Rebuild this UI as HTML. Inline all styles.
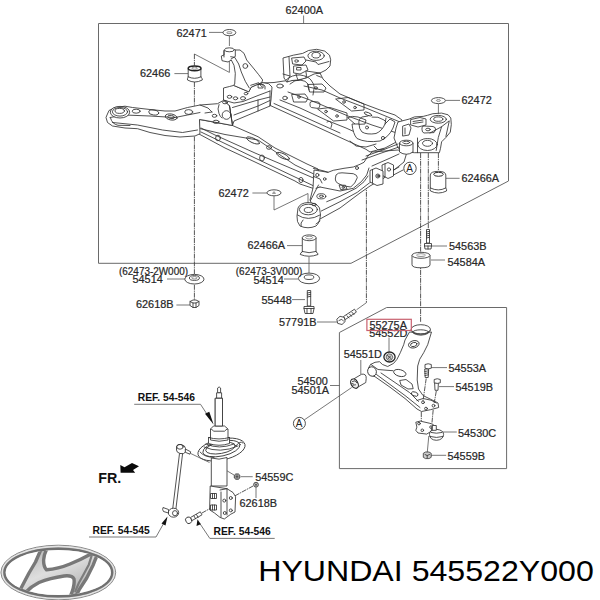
<!DOCTYPE html>
<html><head><meta charset="utf-8">
<style>
html,body{margin:0;padding:0;background:#fff;width:600px;height:600px;overflow:hidden}
svg{display:block}
text{font-family:"Liberation Sans",sans-serif;fill:#222}
.l{font-size:10.9px;stroke:#333;stroke-width:0.22px}
.b{font-size:10.3px;font-weight:bold;fill:#111}
.s{fill:none;stroke:#333;stroke-width:0.85;stroke-linejoin:round;stroke-linecap:round}
.bx{fill:none;stroke:#6a6a6a;stroke-width:1}
.ld{fill:none;stroke:#555;stroke-width:0.8}
.dl{fill:none;stroke:#444;stroke-width:0.9;stroke-dasharray:5 0.8 1.2 0.8}
.p{fill:#fff;stroke:#333;stroke-width:0.85;stroke-linejoin:round}
</style></head><body>
<svg width="600" height="600" viewBox="0 0 600 600">
<defs>
<linearGradient id="hg" x1="0" y1="0" x2="1" y2="1">
<stop offset="0" stop-color="#a8a8a8"/><stop offset="0.45" stop-color="#dedede"/><stop offset="1" stop-color="#9a9a9a"/>
</linearGradient>
<linearGradient id="rg" x1="0" y1="0" x2="0" y2="1">
<stop offset="0" stop-color="#b5b5b5"/><stop offset="0.5" stop-color="#8d8d8d"/><stop offset="1" stop-color="#9a9a9a"/>
</linearGradient>
</defs>
<g id="logo">
<clipPath id="ic"><ellipse cx="58.3" cy="572.5" rx="52.6" ry="22.6"/></clipPath>
<ellipse cx="58.3" cy="572.5" rx="57.4" ry="27.3" fill="#b4b4b4" stroke="#8a8a8a" stroke-width="1"/>
<ellipse cx="58.3" cy="572.5" rx="56" ry="26" fill="none" stroke="#e4e4e4" stroke-width="1.3"/>
<ellipse cx="58.3" cy="572.5" rx="53.8" ry="23.8" fill="url(#hg)" stroke="#707070" stroke-width="2.4"/>
<g clip-path="url(#ic)" fill="#fff" stroke="#787878" stroke-width="3.4" stroke-linejoin="round">
<path d="M42.5 546L35.5 562L29 573L19 592L0 592L0 540Z"/>
<path d="M48.5 546Q44 553 43.6 560Q43.5 566.5 46.5 569.8Q58 569 70 564Q81 559.5 90 554.5L92 540L49 540Z"/>
<path d="M25.5 592.5Q31 586.5 39 582.5Q50 578 64 576Q72 575 74 579Q75 586 70 597L70 600L20 600Z"/>
<path d="M97.5 554.5Q95 560 93.3 564.7L86.7 578L79.2 589.7L76 596L120 600L120 540Z"/>
</g>
<path d="M92 554.5L88.8 564.7L83 575.5L78.8 583L75 592" fill="none" stroke="#7c7c7c" stroke-width="2.2"/>

</g>
<!-- boxes -->
<path class="bx" d="M98.5 23.5H508.5V181L351 263.3H98.5Z"/>
<path class="bx" d="M386.7 307.5H506.6V468.6H339.4V332.5Z"/>
<line class="ld" x1="303.6" y1="15.5" x2="303.6" y2="23.5"/>

<g id="behind">
<line class="dl" x1="194.4" y1="82" x2="194.4" y2="300"/>
<line class="dl" x1="366.4" y1="184" x2="366.4" y2="302.7"/>
<line class="dl" x1="420.6" y1="153" x2="420.6" y2="322"/>
<line class="dl" x1="428.3" y1="153" x2="428.3" y2="229"/>
<line class="dl" x1="438.4" y1="153" x2="438.4" y2="170"/>
</g>
<g id="subframe">
<!-- right rail -->
<path class="p" d="M262 83L274 82.5L284 81L300 80L314.3 73.3L320 73L323 79L330 86L340 94L352 99L364 104L380 110L395 115L402 120L400 140L385 148L370 152L366 149.3L270.7 105.7Z"/>
<path class="s" d="M304 86L322 90L340 98L366 108L400 122M288 92L310 100L348 116L372 125L400 134M280 100L300 108L326 120L346 128L366 137M274 103.5L300 115L320 124L340 133"/>
<path class="s" d="M308 84.5L322 84L326 88L324 92L310 92Z"/><circle class="s" cx="316" cy="88" r="1.3"/>
<path class="s" d="M292 94.5L305 94L308 98L306 102L294 102Z"/><circle class="s" cx="299" cy="97" r="1.3"/>
<path class="s" d="M310 103Q310 101.5 312 101.5L318 102Q320 102.5 320 104.5L319.5 107Q319 108.5 317 108.3L311.5 107.5Q310 107 310 105.5Z"/>
<path class="s" d="M318 109L330 107.5L347 113L347 120L334 121Z"/><circle class="s" cx="326" cy="111.5" r="1.3"/><circle class="s" cx="337" cy="116" r="1.3"/>
<path class="s" d="M336 99L348 97.5L364 104L364 110L352 111Z"/><circle class="s" cx="344" cy="102" r="1.3"/><circle class="s" cx="355" cy="107.5" r="1.3"/>
<ellipse class="s" cx="368" cy="114" rx="4" ry="1.4" transform="rotate(22 368 114)"/>
<path class="s" d="M348 117.5Q352 115.5 358 117L366 120L365 124L356 124.5Z"/>
<path class="s" d="M327 122Q330 120 332 124L331 127.5M372 117Q378 116 384 120L390 126"/>
<!-- bracket near right -->
<path class="p" d="M352 124Q353 134 357 138.5Q366 143 380 141Q389 137 393 128L395 122L390 119L385 124Q382 131 376 133.5Q367 135 362 132Q359 129 359 124Z"/>
<path class="s" d="M359 124Q358 119 362 117L368 116M385 124L386 118"/>
<circle class="s" cx="367" cy="127.5" r="1.5"/>
<path class="s" d="M350 141L356 146L366 147L376 144M374 146L378 150L384 149"/>
<circle class="s" cx="383" cy="138" r="1.6"/>
<!-- rear crossmember -->
<path class="p" d="M223.5 88L229.5 86.5L233.7 85.4L248.8 91.8L251.2 87.2L261.7 82.5L268.7 83.7L272 87L271 100L270 106L258 111L234 121L232.5 125.5L229.5 106L223.5 100Z"/>
<path class="s" d="M223.5 100L234 103L243 101.5L258 95.5L270 91M232.5 107.5L258 100L270 97M234 115L258 106L270 100.5M258 100V111M270 91V106"/>
<ellipse class="s" cx="229.5" cy="96.8" rx="2.3" ry="1.5"/><ellipse class="s" cx="235.5" cy="98.3" rx="2.2" ry="1.5"/><ellipse class="s" cx="243" cy="98.3" rx="2.5" ry="1.7"/><ellipse class="s" cx="246" cy="93.6" rx="1.8" ry="1.3"/>
<path class="s" d="M258.5 84.5H263V88H258.5ZM263 84.5L265 86V89"/>
<!-- rear-right mount block -->
<path class="p" d="M283 58L293.3 55.2L302.7 53.4L308.5 50.5L316.7 49.3L324.8 51.1L329.5 55.2L330.7 59.8L330 66L326 70L320 73L314 74L306 78L298 80L292 80.5L287 82L284 78Z"/>
<ellipse class="s" cx="316.1" cy="55.8" rx="8.2" ry="4.6"/>
<ellipse class="s" cx="316.1" cy="55.2" rx="4.2" ry="2.8"/>
<path class="s" d="M289 57L290 76L287 82M283 74L290 76"/>
<path class="s" d="M292 58L304 57L306 61L302 65L293 64Z"/><ellipse class="s" cx="296.5" cy="61" rx="1.8" ry="1.2"/>
<path class="s" d="M294 66L306 65L308 70L300 74L294 73Z"/><path class="s" d="M297 67.5H301V70H297Z"/>
<path class="s" d="M306 60L316 62L318 64.5L329 61.5M306 71L320 73"/>
<path class="s" d="M296 74Q297 78 298 80M306 72Q307 75 306 78"/>
<path class="s" d="M286 80Q292 74.5 300 75Q308 76 311 80Q314 84 314.3 87L313 95M290 84Q295 79.5 300 80Q306 80.5 308 84L309 90M316.7 75.5L321.3 77.3"/>
<ellipse class="s" cx="280" cy="86" rx="3.3" ry="2"/><ellipse class="s" cx="285" cy="98" rx="2.3" ry="1.8"/>
<!-- tower -->
<path class="p" d="M224 50.5Q229.3 47.2 235.3 50L240 50L244 53.3L246.7 60L253.3 68L258.7 74.7L262.7 80L261.7 82.5L251.2 87.2L248.8 91.8L233.7 85.4L234.7 84L235.3 73.3L234 65.3L231.3 60L228 62L222 60.7L221.3 56L224 55Z"/>
<ellipse class="p" cx="229.3" cy="49.8" rx="4.8" ry="2"/>
<path class="s" d="M224 50.5V57M235.3 50V56.5L231 59M230.7 56.7L234.7 57.3L238.7 64L241.3 72L245.3 81.3L249.3 88"/>
<circle class="s" cx="245.3" cy="66" r="2.4"/>
<path class="s" d="M250.7 85.3L258.7 82.7L261.5 86.5M258 84.5L261.5 83.5"/>
<!-- left rail -->
<path class="p" d="M199.5 119.5L232.5 125.5L258 136.7L275 148L295 158L307 164L318 169L320 175L318 190L300 184L295 181L255 162L225 148L199 134Z"/>
<path class="s" d="M199.5 128.5L225 134.5L258 140L295 165L318 176M201 128L215 135L255 153L295 170L318 180M201 132L255 158L316 187"/>
<ellipse class="s" cx="253" cy="140.5" rx="7" ry="2.3" transform="rotate(25 253 140.5)"/>
<ellipse class="s" cx="283" cy="156" rx="7" ry="2.3" transform="rotate(25 283 156)"/>
<ellipse class="s" cx="269" cy="147.5" rx="2.5" ry="1.8"/>
<ellipse class="s" cx="262" cy="158" rx="2.4" ry="3"/>
<ellipse class="s" cx="301" cy="180" rx="2" ry="2.6"/>
<ellipse class="s" cx="218" cy="138" rx="2.4" ry="2.8"/>
<!-- left arm -->
<path class="p" d="M107 115L109 110.5L115 107.5L125 106.2L132.5 107.5L150 109.5L165 111L175 111L187.5 107.5L200 105L217.5 103.7L222.7 100.8L223.5 100L229.5 106L232.5 125.5L203 120L199.5 119.5L200 133.7L195 136L180 137L165 135.5L150 132.5L137.5 128.7L125 128L112.5 126L107.5 122.5L106 117.5Z"/>
<path class="s" d="M110 117.5L125 115L150 116L175 117.5L187.5 115L200 112.5M112.5 122.5L137.5 125L162.5 130L182.5 132.5L197.5 130"/>
<ellipse class="p" cx="120" cy="112.2" rx="9.7" ry="5.8"/>
<ellipse class="s" cx="120" cy="111.8" rx="7.6" ry="4.3"/>
<ellipse class="s" cx="119.7" cy="110.9" rx="4.7" ry="2.5"/>
<path class="s" d="M110.5 118Q112 124 118 125.3L130 125.5"/>
<ellipse class="s" cx="136.2" cy="111.2" rx="4" ry="2"/>
<ellipse class="s" cx="153.7" cy="112.5" rx="5" ry="2.5" transform="rotate(8 153.7 112.5)"/>
<ellipse class="s" cx="171.2" cy="117" rx="6" ry="3" transform="rotate(10 171.2 117)"/>
<ellipse class="s" cx="171.2" cy="117" rx="3.5" ry="1.6" transform="rotate(10 171.2 117)"/>
<ellipse class="s" cx="188.7" cy="112" rx="4" ry="2.4"/>
<path class="s" d="M219 104.5Q217 109 219 113.5Q220 117 222 118M229.5 106Q231 115 232.5 125.5"/>
<circle class="s" cx="226.5" cy="115" r="4.3"/>
<ellipse class="s" cx="225" cy="102.3" rx="2.5" ry="1.5"/>
<ellipse class="s" cx="214.5" cy="115.8" rx="2.3" ry="1.5"/>
<ellipse class="s" cx="216" cy="121.8" rx="3" ry="1.6"/>
<path class="s" d="M200 105L208 108L212 112M205 113L212 112"/>
<!-- front-right block -->
<path class="p" d="M398 122L409.1 119.1L414.5 116.9L423.2 116.4L427.5 115.3L432.9 113.7L441.6 113.1L448.1 114.8L450.8 118L451.3 124.5L450.3 132.1L445.9 137.5L441.6 141.8L440.5 148.3L439.4 152.7L414.5 152.7L407 152L398 148L394 138L396 128Z"/>
<ellipse class="s" cx="438.3" cy="119.3" rx="8.1" ry="3.9"/>
<ellipse class="s" cx="438.3" cy="119.1" rx="4.6" ry="2.2"/>
<ellipse class="s" cx="427.5" cy="144.5" rx="9.7" ry="6"/>
<ellipse class="s" cx="427.5" cy="143.3" rx="5" ry="3"/>
<path class="s" d="M422 127.5Q422 126 424 126L433 126.5Q436 127 435.5 130L434 132.6L424 133Q422 132.5 422 130Z"/>
<ellipse class="s" cx="428" cy="129.5" rx="2.3" ry="1.3"/>
<path class="s" d="M411 119.5L420 117.5L426 119L426 125L418 127L411 125ZM413 121.5L423 120M413 123.5L423 122"/>
<path class="s" d="M441.6 126.7L438.3 137.5L436.2 150.5M449.2 121.3L445.9 136.4M430 133L441.6 126.7L449 121"/>
<path class="s" d="M403 126L409 124L411 128L409 135L403 136ZM405 128V134"/>
<path class="s" d="M417.5 138L417.5 152.7"/>
<!-- front crossmember -->
<path class="p" d="M314 170L328 172.3L333.3 170.3L344 168.3L353.3 167L360 164.3L364 162.3L368 156L372 152L398 150L407 152L404 162L384 178L370 186L360 193L340 208L320 219L316 214L310 200L313 188Z"/>
<path class="s" d="M320 187L330 189L340 191L353.3 188.3L361.3 181.7L366.7 175L369 168M326.7 201.7L340 196.3L356 188.3L364 181.7L368 176M321.3 211L340 201.7L357.3 192.3L369.3 183L376 179"/>
<path class="p" d="M336 175Q338 172.5 342 172.8L353.3 173.7Q357.5 175 357.3 177.7L354.7 183L350.7 187L342.7 185.7L337.3 183Q335.2 181 335.3 179Z"/>
<path class="s" d="M339.5 185L345.5 185.3L347 189L341 189.5Z"/><circle class="s" cx="343.2" cy="187.3" r="1.1"/>
<ellipse class="s" cx="321.3" cy="196.3" rx="4.5" ry="2.6"/><ellipse class="s" cx="321.3" cy="196.3" rx="2" ry="1.1"/>
<circle class="s" cx="317.3" cy="175" r="1.6"/><circle class="s" cx="324.7" cy="179" r="1.3"/>
<path class="s" d="M313.3 168.3L324 171L328 172.3M313.3 176.3L320 179L322 183M316 188.3L320 187"/>
<circle class="s" cx="357" cy="168" r="1.5"/>
<!-- bracket at junction -->
<path class="s" d="M362 160L380 153.5L399 147M366 156L384 149.5L398 144M372 166L388 159L399 154"/>
<path class="p" d="M382 165L388 162.5L393.5 165V176L388 178.5L382.5 175.5Z"/>
<path class="s" d="M385 164V177"/><circle class="s" cx="389" cy="169.5" r="1.6"/>
<path class="p" d="M370 170.5L376 168L383 171V184L377 185.5L370 182Z"/>
<path class="s" d="M372.5 169.5V183"/>
<circle class="s" cx="377.8" cy="176" r="2"/><circle class="s" cx="377.8" cy="176" r="0.9"/>
<path class="s" d="M393.5 170L399 167M393.5 175L403 170"/>
<!-- front-left foot -->
<path class="p" d="M298 208Q300 203 308 202.5Q317 203 319.5 208L320.5 215Q319.5 223.5 316 226Q308 229.5 300 226Q296.5 222 297 216Z"/>
<ellipse class="s" cx="308.4" cy="209.5" rx="9" ry="5.3"/>
<ellipse class="s" cx="308.4" cy="210" rx="4.2" ry="2.5"/>
<path class="s" d="M297.5 215Q308 222 320 215M303 220Q300 223 301 226M316 224L320 221"/>
<path class="s" d="M318.5 185L310.5 200.5"/>
<ellipse class="s" cx="314" cy="204.5" rx="2.2" ry="1.2"/>
<!-- small bushing on block -->
<path class="p" d="M399.5 143V152Q406.3 156.5 413 152V143Z"/>
<ellipse class="p" cx="406.3" cy="143" rx="6.7" ry="2.8"/>
<ellipse class="s" cx="406.3" cy="142.5" rx="3.4" ry="1.3"/>
</g>
<!-- parts -->
<g id="parts">
<!-- 62471 washer -->
<line class="ld" x1="209" y1="32.4" x2="223" y2="32.4"/>
<ellipse class="p" cx="229.4" cy="32.6" rx="6.4" ry="3.1"/>
<rect x="227" y="31.8" width="4.8" height="1.8" rx="0.8" fill="#fff" stroke="#444" stroke-width="0.6"/>
<line class="ld" x1="229.4" y1="35.8" x2="229.4" y2="46"/>
<!-- 62466 bushing -->
<line class="ld" x1="174.4" y1="73.6" x2="188" y2="73.6"/>
<path class="p" d="M188.2 68.5V77Q187 79 187.5 80Q194.6 84 202.3 80Q202.8 79 200.9 77V68.5Z"/>
<path class="s" d="M188.2 76.8Q194.6 80 200.9 76.8"/>
<ellipse cx="194.6" cy="68.3" rx="6.4" ry="2.4" fill="#fff" stroke="#222" stroke-width="1.5"/>
<ellipse cx="194.6" cy="68.2" rx="2.6" ry="1.1" fill="#fff" stroke="#444" stroke-width="0.6"/>
<path class="ld" d="M194.4 54L229.4 72.4V61"/>
<line class="dl" x1="194.4" y1="54" x2="194.4" y2="66"/>
<!-- 62472 right washer -->
<line class="ld" x1="445.6" y1="100.4" x2="460" y2="100.4"/>
<ellipse class="p" cx="438.4" cy="100.6" rx="7" ry="3"/>
<ellipse cx="438.4" cy="100.5" rx="2" ry="0.9" fill="#fff" stroke="#444" stroke-width="0.6"/>
<line class="ld" x1="438.4" y1="104" x2="438.4" y2="114"/>
<!-- 62466A right bushing -->
<line class="ld" x1="446" y1="178.3" x2="459.6" y2="178.3"/>
<path class="p" d="M430.3 175Q430.3 171.5 438.5 171.3Q445.8 171.5 445.8 175V188Q447 189.5 446.5 191Q438.5 195 430.5 191Q429.8 189.5 430.3 188Z"/>
<path class="s" d="M430.4 188Q438.5 192 445.7 188"/>
<ellipse cx="438.5" cy="174.3" rx="4.8" ry="2" fill="#fff" stroke="#333" stroke-width="1"/>
<!-- 62472 left washer -->
<line class="ld" x1="252.4" y1="193" x2="267" y2="193"/>
<ellipse class="p" cx="274" cy="192.8" rx="7" ry="3"/>
<path d="M272.6 193.4L274 191.6L275.4 193.4Z" fill="#fff" stroke="#444" stroke-width="0.6"/>
<path class="ld" d="M274 196V210L308 193.5V203"/>
<!-- 62466A center bushing -->
<line class="ld" x1="287" y1="245.6" x2="302" y2="245.6"/>
<path class="p" d="M302.3 238V252Q300 253 300.3 254.5Q309 258 318 254.5Q318.3 253 316 252V238Z"/>
<path class="s" d="M302.3 251.5Q309 254 316 251.5"/>
<ellipse class="p" cx="309.2" cy="237.8" rx="7" ry="2.9"/>
<ellipse cx="309.2" cy="237.6" rx="3.5" ry="1.4" fill="#fff" stroke="#444" stroke-width="0.6"/>
<line class="ld" x1="309" y1="257" x2="309" y2="273"/>
<!-- 54514 right washer -->
<line class="ld" x1="284" y1="279" x2="298" y2="279"/>
<ellipse class="p" cx="309" cy="278.4" rx="10.6" ry="5.3"/>
<ellipse class="p" cx="309" cy="277.2" rx="4.8" ry="2.3"/>
<!-- 55448 bolt -->
<line class="ld" x1="292" y1="299.6" x2="305" y2="299.6"/>
<path class="p" d="M307.3 290.5H310.7V306H307.3Z"/>
<path class="s" d="M307.3 293L310.7 292.3M307.3 295L310.7 294.3M307.3 297L310.7 296.3"/>
<path class="p" d="M304 306.5H314V308.5L313 313.5H305L304 308.5Z"/>
<path class="s" d="M304 308.5H314M307 308.5V313.5M311 308.5V313.5"/>
<!-- 57791B bolt -->
<line class="ld" x1="317" y1="322" x2="337" y2="322"/>
<line class="ld" x1="366.4" y1="302.7" x2="356.5" y2="309.8"/>
<path class="p" d="M343.4 316.6L354.5 309.2L356.4 312.1L345.3 319.5Z"/>
<path class="s" d="M347 315.8L349 318M349.5 314L351.5 316.3M352 312.3L354 314.6"/>
<path class="p" d="M336.8 319.2L340 316.3L344.3 317.4L345.2 321.5L342 324.5L337.7 323.4Z"/>
<path class="s" d="M339 320.5L341.8 319.3L343.6 321.2"/>
<!-- 54514 left washer -->
<line class="ld" x1="167" y1="279" x2="185.6" y2="279"/>
<ellipse class="p" cx="194.4" cy="279.2" rx="9.6" ry="4.8"/>
<ellipse class="p" cx="194.4" cy="278" rx="5" ry="2.4"/>
<ellipse cx="194.4" cy="277.8" rx="2.6" ry="1.2" fill="#fff" stroke="#444" stroke-width="0.6"/>
<!-- 62618B left nut -->
<line class="ld" x1="176.4" y1="305" x2="190" y2="305"/>
<path class="p" d="M190 301.5L193 300H196L199 301.5V305.5L196 307.5H193L190 305.5Z"/>
<path class="s" d="M190 301.5L193 303H196L199 301.5M193 303V307.5M196 303V307.5"/>
<!-- 54563B bolt -->
<line class="ld" x1="432" y1="246" x2="447" y2="246"/>
<path class="p" d="M426.5 229.5H429.5V243H426.5Z"/>
<path class="s" d="M426.5 232L429.5 231.3M426.5 234L429.5 233.3M426.5 236L429.5 235.3M426.5 238L429.5 237.3"/>
<path class="p" d="M424.5 243.5H431.5V246L431 249H425L424.5 246Z"/>
<path class="s" d="M424.5 246H431.5M428 246V249"/>
<!-- 54584A collar -->
<line class="ld" x1="431" y1="260" x2="445" y2="260"/>
<path class="p" d="M412 255.3V264.7Q412 267.8 421 267.8Q430 267.8 430 264.7V255.3Z"/>
<ellipse class="p" cx="421" cy="255.3" rx="9" ry="3"/>
<ellipse cx="421" cy="255.1" rx="4.4" ry="1.4" fill="#fff" stroke="#444" stroke-width="0.6"/>
<!-- circle A -->
<circle cx="410" cy="168.4" r="6.2" fill="#fff" stroke="#333" stroke-width="0.85"/>
<text x="406.3" y="172.2" style="font-size:10px">A</text>
<circle cx="299.4" cy="423.4" r="6" fill="#fff" stroke="#333" stroke-width="0.85"/>
<text x="295.8" y="427.2" style="font-size:10px">A</text>
<line class="ld" x1="304.4" y1="419.8" x2="351.7" y2="387.5"/>
</g>
<g id="arm">
<!-- 54552D -->
<line class="ld" x1="389" y1="337.5" x2="389" y2="351.5"/>
<ellipse cx="389.5" cy="357" rx="5.6" ry="5" fill="#fff" stroke="#222" stroke-width="1.3"/>
<path d="M386.3 355.3L388.3 353.8L391.6 354.4L392.9 357.2L391.5 359.9L388.2 360.3L386.2 358.4Z" fill="#ccc" stroke="#333" stroke-width="0.7"/>
<path class="s" d="M387.5 355.5L391 358.5M388 358.8L390.5 356"/>
<!-- 54551D bushing -->
<line class="ld" x1="360.8" y1="360" x2="360.8" y2="374.2"/>
<path class="p" d="M353.3 379.2L361.7 374.2Q366.5 373.5 366.2 378.5Q365.8 382 365.8 382.5L355.8 388.3Z"/>
<ellipse cx="354.5" cy="383.6" rx="3.4" ry="5" transform="rotate(-30 354.5 383.6)" fill="#eee" stroke="#222" stroke-width="1.1"/>
<path class="s" d="M352.5 381.5L355 380.8L356.8 382.8M352.8 385.2L355.5 384.8M351.5 383.3L353.5 384"/>
<!-- leaders -->
<line class="ld" x1="330" y1="385.5" x2="339.5" y2="385.5"/>
<line class="ld" x1="431" y1="367.6" x2="447" y2="367.6"/>
<line class="ld" x1="439" y1="386.6" x2="454" y2="386.6"/>
<line class="ld" x1="442.4" y1="432" x2="456.8" y2="432"/>
<line class="ld" x1="431" y1="455.3" x2="446.2" y2="455.3"/>
<!-- arm body -->
<path class="p" d="M409.5 332L405 340L403.7 344.7L400.3 352.7L397 359.3L393.7 363.3L387.7 366.5L382.5 364.5L379.5 361.7L375 362.3L370.5 364.5L368.5 368L369 374.5L375 376.7L390 387.2L405 398.5L417 409L421.5 411.5L430.5 409.7L438.7 407.5L438 403L436.5 402.2L430.5 399.2L423 395.5L418.5 389L417.2 380L417.7 366L419.7 359.3L423.7 352.7L427.7 344.7L431.5 332Q421 334 409.5 332Z"/>
<!-- cup 55275A -->
<path class="p" d="M411.2 329.5Q411.5 334.5 420.8 335.2Q430 334.5 430.4 329.5Z"/>
<ellipse class="p" cx="420.8" cy="329.3" rx="9.6" ry="4.6"/>
<ellipse class="s" cx="420.8" cy="332" rx="7.8" ry="2.2"/>

<path class="s" d="M376.5 374.5L390 384.5L405 395.5L420 407.5M381 373L395 382.5L409.5 392.5L418.5 401.5"/>
<path class="s" d="M371 364.5L378 369.5L386 370.2L393 370.7"/>
<ellipse class="p" cx="372" cy="371.5" rx="4.3" ry="4.8" transform="rotate(-25 372 371.5)"/>
<ellipse class="p" cx="413.8" cy="344.3" rx="5.4" ry="3.6" transform="rotate(-15 413.8 344.3)"/>
<ellipse class="s" cx="413.8" cy="344.5" rx="3.3" ry="2" transform="rotate(-15 413.8 344.5)"/>
<ellipse class="p" cx="399.8" cy="373" rx="6.3" ry="3.3" transform="rotate(15 399.8 373)"/>
<path class="p" d="M399.7 380.5L406 379.5L412 384L413.2 388.7L408 389L401 385Z"/>
<ellipse class="p" cx="414.7" cy="394" rx="3.5" ry="2" transform="rotate(20 414.7 394)"/>
<path class="s" d="M417 400.5L423 398.5L431 400.2L436.5 403"/>
<circle class="s" cx="423" cy="402.3" r="1.4"/><circle class="s" cx="433.5" cy="405.7" r="1.4"/><circle class="s" cx="426" cy="408.6" r="1.4"/>
<!-- bolts -->
<path class="p" d="M424.7 369H428.7L428.2 377.5H425.2Z"/>
<path class="s" d="M424.8 371.5L428.6 370.8M424.9 373.5L428.5 372.8M425 375.5L428.4 374.8"/>
<path class="p" d="M425 364.5Q428.2 363 431.3 364.5V368.2Q428.2 369.5 425 368.2Z"/>
<line class="dl" x1="426.2" y1="378.5" x2="423" y2="401"/>
<path class="p" d="M434.6 382.8H438.4L438 390.3H435Z"/>
<path class="p" d="M434.2 379.5Q437.3 378 440.3 379.5V382.8Q437.3 384 434.2 382.8Z"/>
<line class="dl" x1="436.3" y1="391" x2="434.2" y2="403"/>
<!-- ball joint -->
<line class="dl" x1="421.3" y1="412" x2="421.3" y2="421.5"/>
<line class="dl" x1="433.2" y1="409.8" x2="432" y2="422.5"/>
<path class="p" d="M415.8 422.2L420.2 421.1L429.9 423.3L433.2 424.4L431 431.4L426.7 434.1L418 433L415.8 430.3L416.9 427.1Z"/>
<circle class="s" cx="419" cy="423.6" r="1.3"/><circle class="s" cx="422.3" cy="430.3" r="1.3"/><circle class="s" cx="431" cy="427.1" r="1.3"/>
<path class="p" d="M429.5 434.5Q429 430 436.4 429.3Q443.5 430 443.6 434.5Q443 440 436.4 440.3Q429.8 440 429.5 434.5Z"/>
<path class="s" d="M430 436.5Q436.4 438.5 443 436.5M431 432.5Q436.4 434 442 432.5"/>
<path class="p" d="M432.3 425.5H436.3V430.3H432.3Z"/>
<line class="ld" x1="428.8" y1="436" x2="427.3" y2="452"/>
<path d="M423.3 453.3L425.5 452H429L431.2 453.3V457.3L429 458.6H425.5L423.3 457.3Z" fill="#ccc" stroke="#333" stroke-width="0.8"/><path class="s" d="M425 454.5L427.2 455.5L429.5 454.5M427.2 455.5V458"/>
</g>
<g id="strut">
<!-- REF leader top -->
<path class="ld" d="M134.2 404.3H200.5L211.5 421"/>
<path d="M205 413.8L209.3 411.8L213.6 424.6Z" fill="#111"/>
<!-- rod -->
<path class="p" d="M217.6 392.8V388Q219.1 385.8 220.6 388V392.8Z"/>
<path class="p" d="M216.6 398.3V392.8H221.6V398.3Z"/>
<path class="p" d="M215.2 426V398.3H222.5V426Z"/>
<!-- spring seat -->
<ellipse class="p" cx="221.5" cy="449.5" rx="24" ry="10.5" transform="rotate(-12 221.5 449.5)"/>
<ellipse class="s" cx="221.5" cy="448.5" rx="19" ry="7.5" transform="rotate(-12 221.5 448.5)"/>
<ellipse class="s" cx="220.5" cy="448" rx="15" ry="5.5" transform="rotate(-10 220.5 448)"/>
<path class="s" d="M236 446Q240 440 243 443M200 452Q204 457 214 457.5"/>
<!-- upper mount -->
<path class="p" d="M208.5 437.5H229.5V443.5Q219 447 208.5 443.5Z"/>
<path class="p" d="M210.5 429V440Q219 442.5 228 440V429Z"/>
<path class="p" d="M211 428.5L213.5 426H224.5L227.5 428.5L224.5 431.2H213.5Z"/>
<path class="p" d="M215.2 426V398.3H222.5V426Z"/>
<path class="s" d="M208.5 437.5Q219 440.5 229.5 437.5"/>
<path class="s" d="M206 444Q219 450 234 444M204 447Q220 454 238 446"/>
<!-- tube -->
<path class="p" d="M211.3 458V486H227V457.5Q219 460.5 211.3 458Z"/>
<!-- knuckle bracket -->
<path class="p" d="M210.2 486L227 488.7L233 492.5L235.6 496.8L235 512L230.8 514.2L224.3 519L220 517.4L214.5 513L209.6 509.8Z"/>
<path class="s" d="M220 490L227 488.7M221 492V517M227 489V515"/>
<circle class="s" cx="224.3" cy="500.6" r="1.5"/><circle class="s" cx="230.8" cy="498" r="1.5"/><circle class="s" cx="230.8" cy="510.4" r="1.5"/><circle class="s" cx="224.8" cy="513" r="1.5"/>
<path class="p" d="M210.5 493.5H216.5V498.5H210.5ZM210.5 505H216.5V510H210.5Z"/>
<path class="s" d="M212.5 493.5V498.5M214.5 493.5V498.5M212.5 505V510M214.5 505V510"/>
<!-- 54559C nut + line -->
<line class="ld" x1="227" y1="470.8" x2="234" y2="475"/>
<line class="ld" x1="240.7" y1="476.7" x2="252.7" y2="476.7"/>
<path d="M234.3 475.2L235.8 473.9H238.4L239.8 475.2V478L238.4 479.3H235.8L234.3 478Z" fill="#999" stroke="#333" stroke-width="0.8"/><circle cx="237" cy="476.6" r="1.2" fill="#555"/>
<!-- 62618B small -->
<path class="dl" d="M235 495.8L253.8 485.6"/>
<circle cx="256" cy="484.7" r="2.4" fill="#bbb" stroke="#333" stroke-width="0.8"/><circle cx="256" cy="484.7" r="1" fill="#555"/>
<line class="ld" x1="256" y1="487" x2="256" y2="498"/>
<!-- link -->
<path class="ld" d="M190.7 453.5L209.5 462.5"/>
<path class="p" d="M179.5 453.5L172.7 509H175.9L182.6 453.5Z"/>
<path class="p" d="M176.5 446.5Q177 444 181 444.5Q185.5 445.5 185.5 448.5V452Q184 454.5 180 453.5Q176.5 452.5 176.5 450Z"/>
<ellipse class="s" cx="180" cy="446.8" rx="3.2" ry="2.4"/>
<path class="p" d="M185.3 449L190.7 451.8L190 454.2L185.3 452.3Z"/>
<ellipse class="p" cx="173.5" cy="512.7" rx="5.2" ry="4.5"/>
<ellipse class="s" cx="175" cy="513.2" rx="2.5" ry="2.6"/>
<path class="p" d="M163 507.5L168.5 509.5L168.5 513L163.5 511.5Q162 509.5 163 507.5Z"/>
<!-- bolt lower -->
<path class="p" d="M190.5 517.5L200.3 511.8L202 514.8L192.2 520.5Z"/>
<path class="s" d="M194 516L195.6 518.8M196.5 514.6L198.1 517.4"/>
<ellipse class="p" cx="188.6" cy="520.3" rx="2.9" ry="3.4" transform="rotate(-30 188.6 520.3)"/>
<line class="dl" x1="202" y1="513" x2="210" y2="508.5"/>
<!-- REF 54-545 leader -->
<path class="ld" d="M89 537H156L165 521"/>
<path d="M161.5 523.5L165.5 525.5L167.5 516.5Z" fill="#111"/>
<!-- REF 54-546 lower leader -->
<path class="ld" d="M274.7 538.4H209.8L199.5 523"/>
<path d="M196.5 526L200.8 524.2L197.5 519.3Z" fill="#111"/>
<!-- FR arrow -->
<path d="M120.3 465L124.5 467.3L132 463L139 466.3L133 470L135.2 472.8L120.6 472.8Z" fill="#0a0a0a"/>
</g>
<!-- labels -->
<text class="l" x="285.5" y="14.2">62400A</text>
<text class="l" x="176.5" y="36.5">62471</text>
<text class="l" x="140" y="77.2">62466</text>
<text class="l" x="461.5" y="103.5">62472</text>
<text class="l" x="461.5" y="182.2">62466A</text>
<text class="l" x="218.5" y="196.7">62472</text>
<text class="l" x="247.5" y="249.2">62466A</text>
<text class="l" x="449" y="249.5">54563B</text>
<text class="l" x="447.5" y="265.5">54584A</text>
<text class="l" x="119" y="275.4" textLength="69" lengthAdjust="spacingAndGlyphs">(62473-2W000)</text>
<text class="l" x="132.5" y="282.5">54514</text>
<text class="l" x="235.8" y="275.4" textLength="66.5" lengthAdjust="spacingAndGlyphs">(62473-3V000)</text>
<text class="l" x="253.5" y="283.7">54514</text>
<text class="l" x="136" y="308.2">62618B</text>
<text class="l" x="261.5" y="303.5">55448</text>
<text class="l" x="279" y="325.7">57791B</text>
<text class="l" x="369.4" y="329">55275A</text>
<text class="l" x="369.2" y="337.2">54552D</text>
<text class="l" x="343.7" y="358.4">54551D</text>
<text class="l" x="297.5" y="384.8">54500</text>
<text class="l" x="291.5" y="393.9">54501A</text>
<text class="l" x="448.5" y="372.1">54553A</text>
<text class="l" x="455.5" y="391.1">54519B</text>
<text class="l" x="458" y="436.5">54530C</text>
<text class="l" x="447.5" y="459.7">54559B</text>
<text class="l" x="255.2" y="480.8">54559C</text>
<text class="l" x="239.5" y="507.1">62618B</text>
<text class="b" x="137.8" y="401.3">REF. 54-546</text>
<text class="b" x="92.5" y="533.7">REF. 54-545</text>
<text class="b" x="213.5" y="534.7">REF. 54-546</text>
<text x="98.3" y="482.8" style="font-size:14.3px;font-weight:bold;fill:#111">FR.</text>
<rect x="366.9" y="319.3" width="44.4" height="11.2" fill="none" stroke="#c8606e" stroke-width="1.2"/>
<text x="0" y="0" transform="translate(258.2 581.2) scale(1.078 1)" style="font-size:29.8px;fill:#000">HYUNDAI 545522Y000</text>
</svg>

</body></html>
